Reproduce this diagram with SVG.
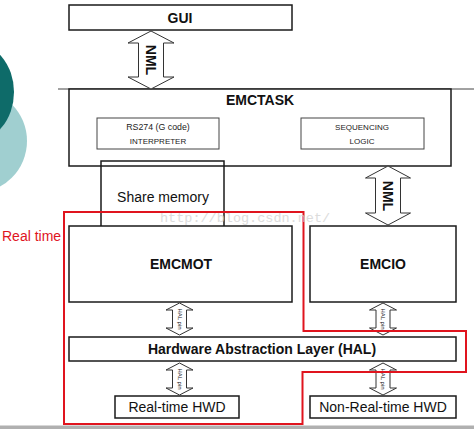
<svg xmlns="http://www.w3.org/2000/svg" width="474" height="429" viewBox="0 0 474 429">
<style>
.box{fill:#fff;stroke:#1a1a1a;stroke-width:1.5}
.sub{fill:#fff;stroke:#444;stroke-width:1}
.arr{fill:#fff;stroke:#333;stroke-width:1}
.b{font-family:"Liberation Sans",Arial,sans-serif;font-weight:bold;font-size:14px;fill:#111;text-anchor:middle}
.r{font-family:"Liberation Sans",Arial,sans-serif;font-size:14px;fill:#111;text-anchor:middle}
.s{font-family:"Liberation Sans",Arial,sans-serif;font-size:8px;fill:#222;text-anchor:middle}
.pin{font-family:"Liberation Sans",Arial,sans-serif;font-size:6px;fill:#222;text-anchor:middle}
</style>
<rect x="0" y="0" width="474" height="429" fill="#fff"/>
<g id="decor">
<circle cx="-25" cy="141" r="52" fill="#a0cfd0"/>
<ellipse cx="-28" cy="92" rx="42" ry="50" fill="#0e6b69"/>
<line x1="58" y1="89" x2="474" y2="89" stroke="#444" stroke-width="1"/>
<rect x="0" y="425.5" width="474" height="3.5" fill="#b0b0b0"/>
</g>
<g id="gui"><rect class="box" x="69" y="5" width="223" height="25"/><text class="b" x="180" y="23">GUI</text></g>
<g id="emctask">
<rect class="box" x="69" y="89" width="382" height="77"/>
<text class="b" x="260" y="105">EMCTASK</text>
<g id="rs274"><rect class="sub" x="97" y="118" width="122" height="31"/>
<text class="s" x="158" y="130" style="font-size:8.8px">RS274 (G code)</text>
<text class="s" x="158" y="144">INTERPRETER</text></g>
<g id="seq"><rect class="sub" x="301" y="118" width="123" height="31"/>
<text class="s" x="362" y="130">SEQUENCING</text>
<text class="s" x="362" y="144">LOGIC</text></g>
</g>
<g id="share"><rect class="box" x="101" y="161" width="123" height="69" fill="none" style="fill:none"/><text class="r" x="163" y="202">Share memory</text></g>
<g id="emcmot"><rect class="box" x="69" y="226" width="223" height="76"/><text class="b" x="181" y="269">EMCMOT</text></g>
<g id="emcio"><rect class="box" x="310" y="226" width="146" height="76"/><text class="b" x="383" y="269">EMCIO</text></g>
<g id="hal"><rect class="box" x="69" y="337" width="387" height="24"/><text class="b" x="262" y="354">Hardware Abstraction Layer (HAL)</text></g>
<g id="rthwd"><rect class="box" x="115" y="396" width="124" height="22"/><text class="r" x="177" y="412">Real-time HWD</text></g>
<g id="nrthwd"><rect class="box" x="310" y="396" width="146" height="22"/><text class="r" x="383" y="412">Non-Real-time HWD</text></g>
<g id="connectors">
<path class="arr" d="M151,31 L174,43 L163.5,43 L163.5,77 L174,77 L151,89 L128,77 L138.5,77 L138.5,43 L128,43 Z"/>
<text class="b" transform="translate(151,60) rotate(90)" y="5">NML</text>
<path class="arr" d="M388,166 L410.5,178 L400.5,178 L400.5,213 L410.5,213 L388,225 L365.5,213 L375.5,213 L375.5,178 L365.5,178 Z"/>
<text class="b" transform="translate(388,196) rotate(90)" y="5">NML</text>
<path class="arr" d="M179.5,303 L193,310 L186.5,310 L186.5,328 L193,328 L179.5,335 L166,328 L172.5,328 L172.5,310 L166,310 Z"/>
<text class="pin" transform="translate(179.5,319) rotate(90)" y="2">HAL pin</text>
<path class="arr" d="M179.5,363 L193,370 L186.5,370 L186.5,388 L193,388 L179.5,395 L166,388 L172.5,388 L172.5,370 L166,370 Z"/>
<text class="pin" transform="translate(179.5,379) rotate(90)" y="2">HAL pin</text>
<path class="arr" d="M383,303 L396.5,310 L390,310 L390,328 L396.5,328 L383,335 L369.5,328 L376,328 L376,310 L369.5,310 Z"/>
<text class="pin" transform="translate(383,319) rotate(90)" y="2">HAL pin</text>
<path class="arr" d="M383,363 L396.5,370 L390,370 L390,388 L396.5,388 L383,395 L369.5,388 L376,388 L376,370 L369.5,370 Z"/>
<text class="pin" transform="translate(383,379) rotate(90)" y="2">HAL pin</text>
</g>
<g id="realtime">
<path d="M64,212 L303.5,212 L303.5,331 L466,331 L466,372 L302.5,372 L302.5,424 L64,424 Z" fill="none" stroke="#e0141e" stroke-width="2"/>
<text x="2" y="241" style="font-family:'Liberation Sans',Arial,sans-serif;font-size:14px;fill:#e0141e">Real time</text>
</g>
<text x="160" y="222" style="font-family:'Liberation Mono',monospace;font-size:13.5px;fill:#d4d4d4;opacity:0.8">http://blog.csdn.net/</text>
</svg>
